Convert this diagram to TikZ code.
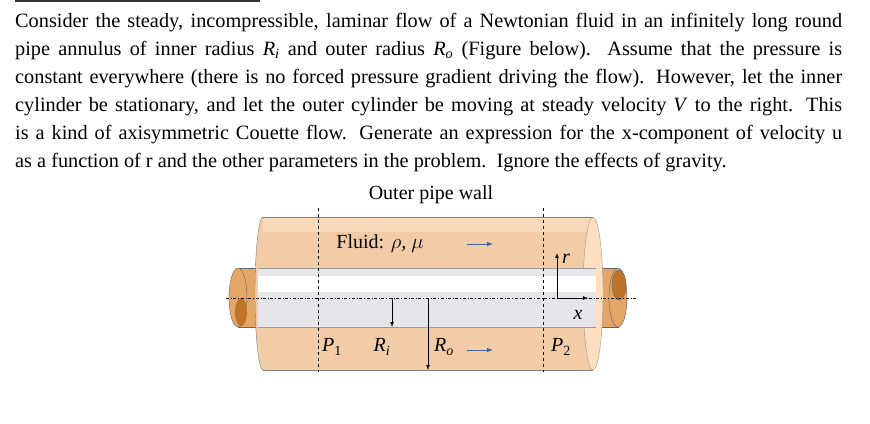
\documentclass[tikz,border=0pt]{standalone}
\usepackage{fontspec}
\setmainfont{Liberation Serif}
\begin{document}
\begin{tikzpicture}[x=1pt,y=-1pt,
 lbl/.style={inner sep=0pt,font=\fontsize{20}{22}\selectfont},
 flow/.style={-latex,draw=cyan!50!blue!70!black,line width=1pt},
 rad/.style={-latex,line width=0.7pt},
 cut/.style={dashed,line width=0.7pt}]
\useasboundingbox (0,0) rectangle (870,423);
\fill[white] (0,0) rectangle (870,423);
\fill[black!80] (15,0) rectangle (260,1.5);
\node[anchor=north west,inner sep=0pt,text width=827pt,align=justify,font=\fontsize{20.3}{28}\selectfont] (para) at (15,13)
{Consider the steady, incompressible, laminar flow of a Newtonian fluid in an infinitely long round\linebreak pipe annulus of inner radius \textit{R\textsubscript{i}} and outer radius \textit{R\textsubscript{o}} (Figure below). Assume that the pressure is\linebreak constant everywhere (there is no forced pressure gradient driving the flow). However, let the inner\linebreak cylinder be stationary, and let the outer cylinder be moving at steady velocity \textit{V} to the right. This\linebreak is a kind of axisymmetric Couette flow. Generate an expression for the x-component of velocity u\linebreak as a function of r and the other parameters in the problem.\ \ Ignore the effects of gravity.};
\node[lbl] (owall) at (431,195) {Outer pipe wall};
% rod stubs
\fill[brown!60!orange!70!white,draw=black!60] (238,268) rectangle (268,327);
\fill[brown!60!orange!70!white,draw=black!60] (238,297.5) ellipse[x radius=9,y radius=29.5];
\fill[brown!70!orange!90!black] (241,312) ellipse[x radius=6,y radius=14];
\fill[brown!60!orange!70!white,draw=black!60] (590,268) rectangle (618,327);
\fill[brown!60!orange!70!white] (590.5,268.5) rectangle (617,326.5);
\fill[brown!60!orange!70!white,draw=black!60] (618,297.5) ellipse[x radius=9,y radius=29.5];
\fill[brown!70!orange!90!black,draw=black!60] (619,285) ellipse[x radius=7,y radius=15];
% outer cylinder
\fill[orange!45!brown!40!white,draw=black!50] (263,293.5) ellipse[x radius=8,y radius=76.5];
\fill[orange!45!brown!40!white] (263,217) rectangle (593,370);
\fill[orange!60!brown!30!white] (263,217) rectangle (593,232);
\fill[orange!25!white,draw=black!40] (593,293.5) ellipse[x radius=10,y radius=76.5];
\draw[black!50] (263,217) -- (593,217) (263,370) -- (593,370);
% inner light region
\fill[blue!10!gray!18!white] (258,268) rectangle (596,327);
\fill[white] (258,276) rectangle (596,292);
\draw[black!40] (258,268) -- (596,268) (258,327) -- (596,327);
% axis
\draw[dash dot,line width=0.6pt] (226,298) -- (636,298);
\coordinate (o) at (557,298);
\coordinate (rt) at (557,253);
\coordinate (xt) at (588,298);
\draw[rad] (o) -- (rt);
\draw[rad] (o) -- (xt);
\node[lbl,font=\fontsize{20}{22}\selectfont\itshape] (r) at (566,259) {r};
\node[lbl,font=\fontsize{20}{22}\selectfont\itshape] (x) at (578,315) {x};
% cuts
\coordinate (c1a) at (318,208); \coordinate (c1b) at (318,372);
\coordinate (c2a) at (543,208); \coordinate (c2b) at (543,372);
\draw[cut] (c1a) -- (c1b); \draw[cut] (c2a) -- (c2b);
% radii
\coordinate (ri0) at (392,298); \coordinate (ri1) at (392,327);
\coordinate (ro0) at (428,298); \coordinate (ro1) at (428,370);
\draw[rad] (ri0) -- (ri1); \draw[rad] (ro0) -- (ro1);
% labels
\node[lbl] (fl) at (380,244) {Fluid: \textit{$\rho$, $\mu$}};
\node[lbl] (p1) at (332,347) {\textit{P}\textsubscript{1}};
\node[lbl] (rin) at (382,347) {\textit{R\textsubscript{i}}};
\node[lbl] (ron) at (444,347) {\textit{R\textsubscript{o}}};
\node[lbl] (p2) at (561,347) {\textit{P}\textsubscript{2}};
\coordinate (f1a) at (467,244); \coordinate (f1b) at (493,244);
\coordinate (f2a) at (467,350); \coordinate (f2b) at (493,350);
\draw[flow] (f1a) -- (f1b); \draw[flow] (f2a) -- (f2b);
\end{tikzpicture}
\end{document}
